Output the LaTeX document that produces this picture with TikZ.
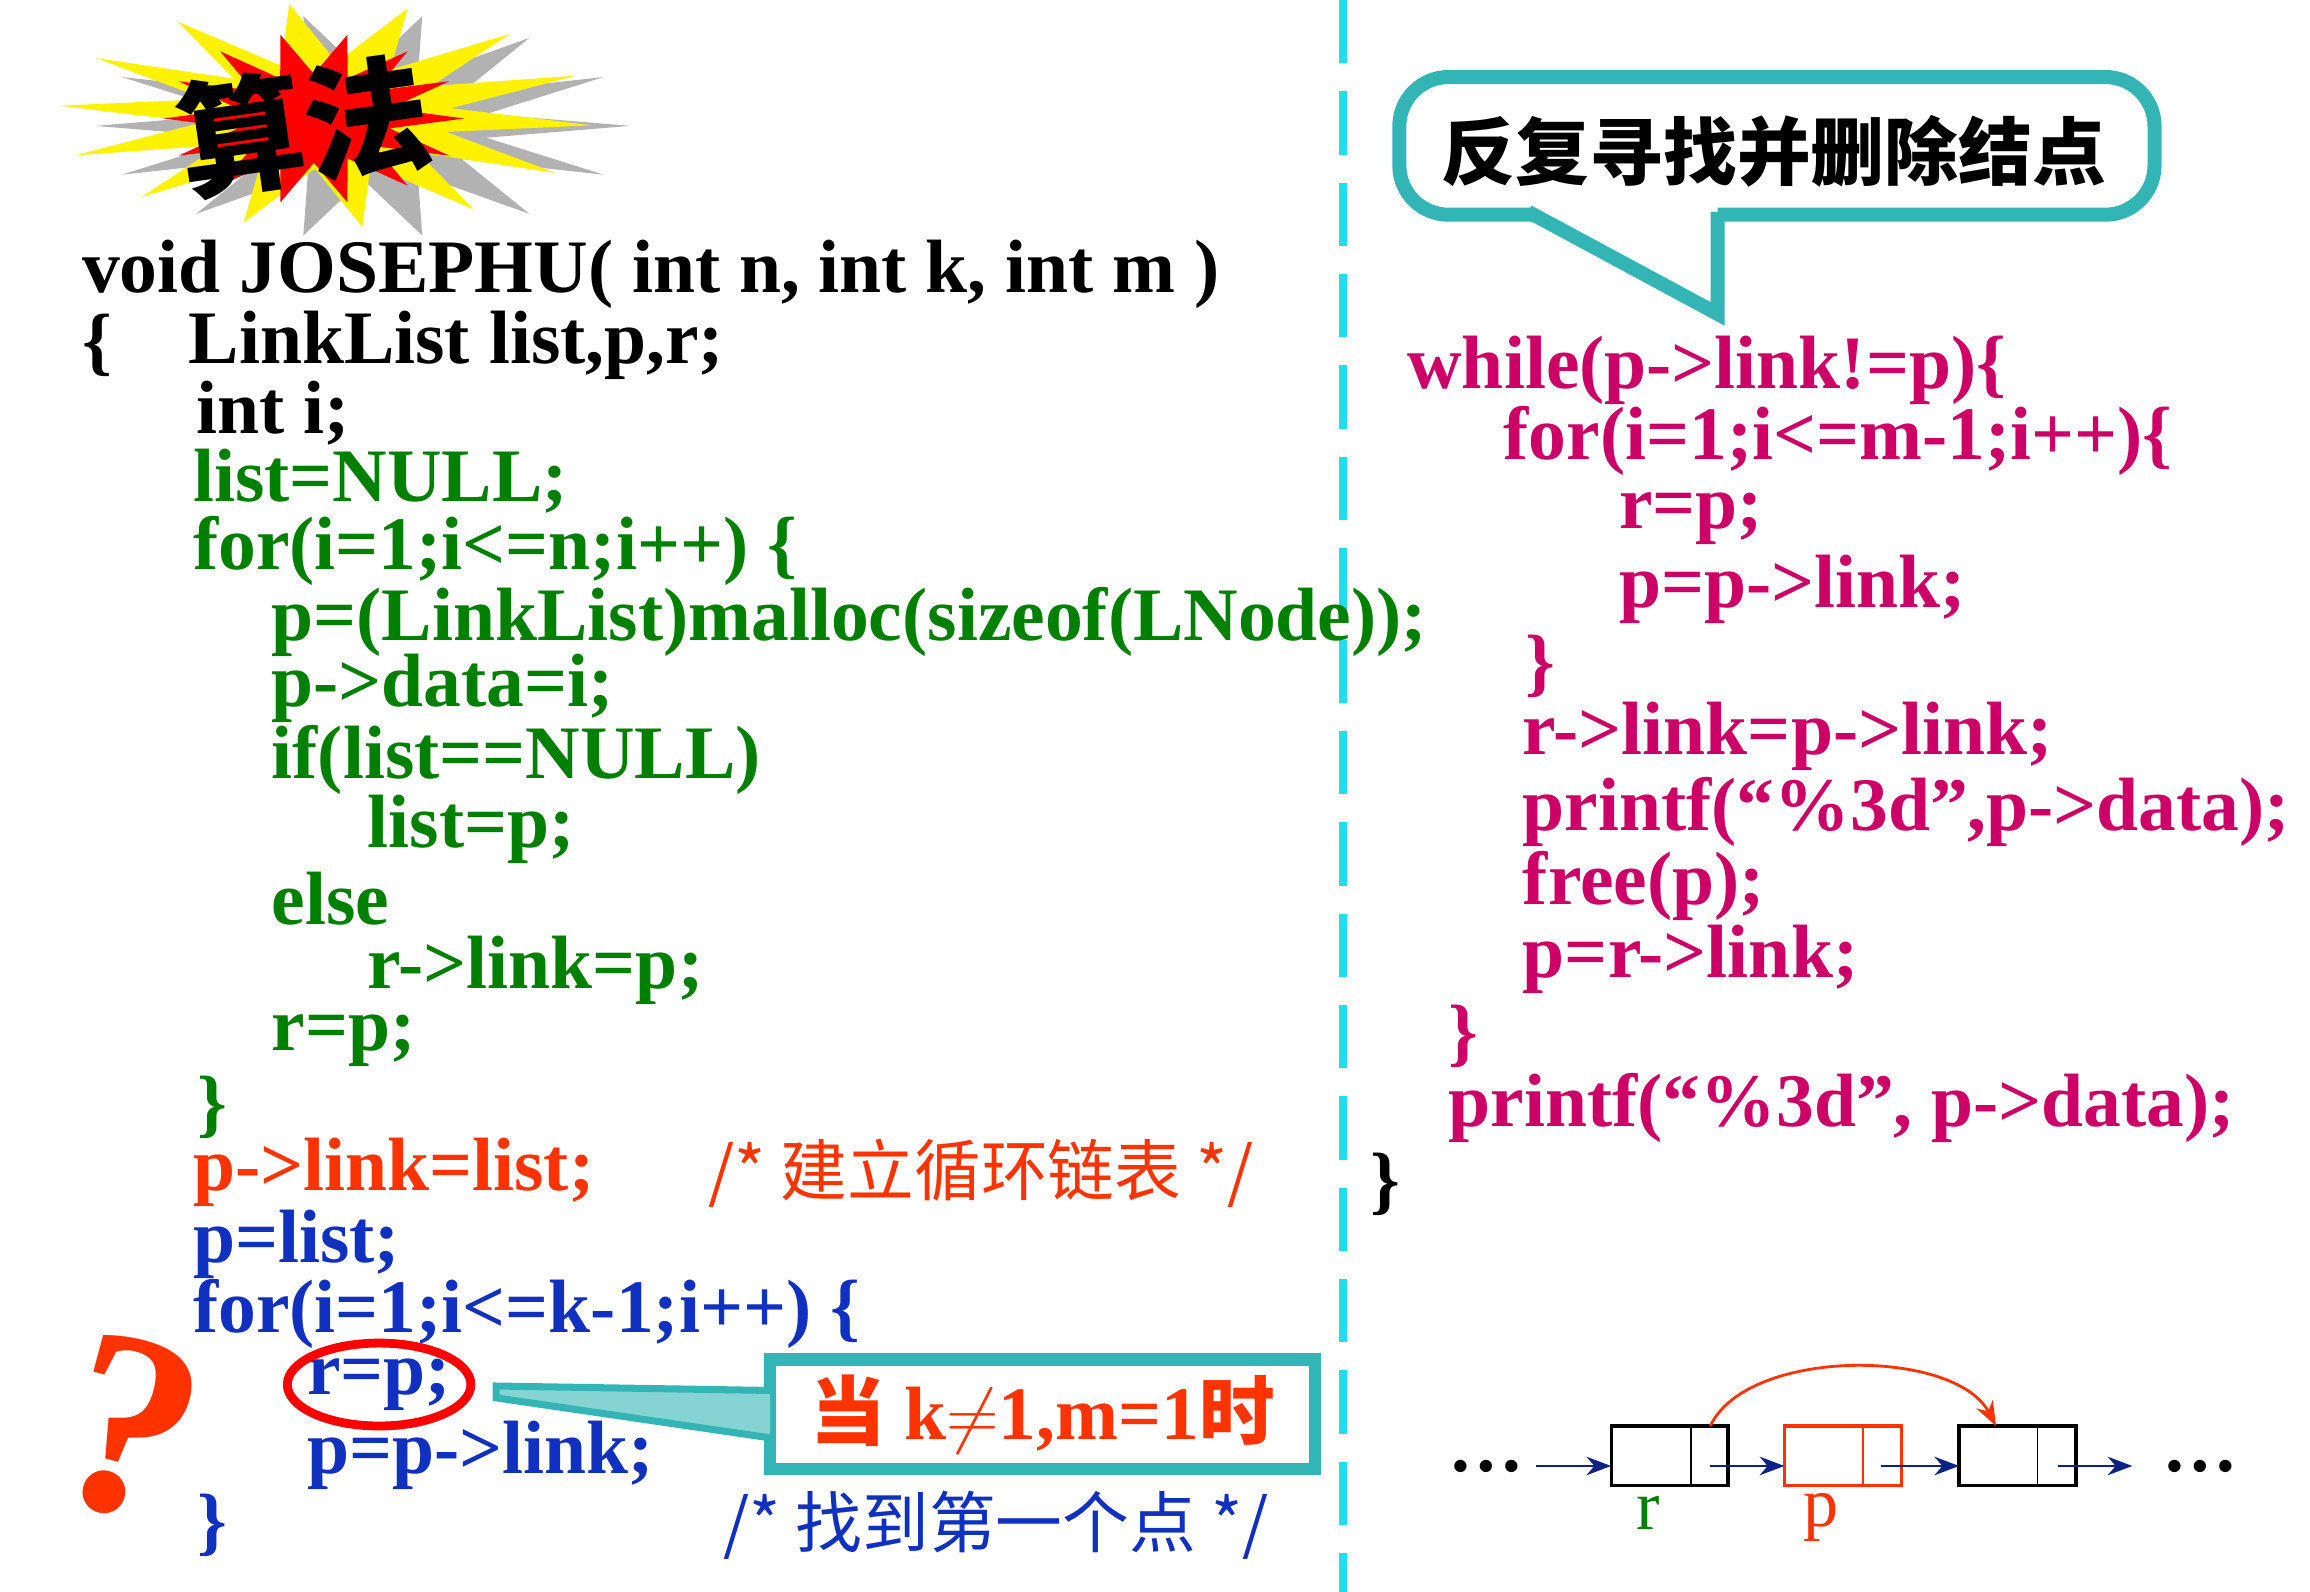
\documentclass[tikz,border=0pt]{standalone}
\usepackage{fontspec}
\setmainfont{Liberation Serif}
\newfontfamily\cjk{Noto Sans CJK SC}
\usetikzlibrary{arrows.meta,calc}
\definecolor{cgreen}{HTML}{008000}
\definecolor{cred}{HTML}{FF3300}
\definecolor{cblue}{HTML}{1030C0}
\definecolor{cmag}{HTML}{CC0066}
\definecolor{cteal}{HTML}{33B5B5}
\definecolor{ccyan}{HTML}{22DDEE}
\tikzset{
 code/.style={anchor=west,inner sep=0pt,font=\fontsize{21.5}{24}\selectfont\bfseries},
 cmt/.style={anchor=west,inner sep=0pt,font=\fontsize{19}{22}\selectfont\cjk},
 cell/.style={draw,line width=0.9pt},
 lnk/.style={-{Stealth[length=7pt]},draw=cblue!70!black,line width=0.8pt}
}
\begin{document}
\begin{tikzpicture}[x=0.1481mm,y=-0.1481mm]
\useasboundingbox (0,0) rectangle (1560,1075);
% starburst
\fill[gray!60] plot[samples=29,domain=0:360,variable=\t] ({245+0.95*(140+50*cos(14*\t))*cos(\t)},{85+0.4*(140+50*cos(14*\t))*sin(\t)}) -- cycle;
\fill[yellow] plot[samples=29,domain=0:360,variable=\t] ({220+0.95*(140+50*cos(14*\t))*cos(\t+5)},{78+0.4*(140+50*cos(14*\t))*sin(\t+5)}) -- cycle;
\fill[red] plot[samples=29,domain=0:360,variable=\t] ({212+0.7*(110+35*cos(14*\t))*cos(\t)},{80+0.4*(110+35*cos(14*\t))*sin(\t)}) -- cycle;
\node[inner sep=0pt,font=\fontsize{36}{40}\selectfont\cjk\bfseries,rotate=8] (algo) at (205,85) {算法};
% dashed separator
\draw[ccyan,line width=2.5pt,dash pattern=on 18pt off 8pt] (907,0) -- (907,1075);
% left code
\node[code] (l1) at (55,185) {void JOSEPHU( int n, int k, int m )};
\node[code] (l2) at (55,233) {\{};
\node[code] (l2b) at (127,233) {LinkList list,p,r;};
\node[code] (l3) at (132,279) {int i;};
\begin{scope}[every node/.style={code,text=cgreen}]
\node (g1) at (130,325) {list=NULL;};
\node (g2) at (130,372) {for(i=1;i<=n;i++) \{};
\node (g3) at (183,420) {p=(LinkList)malloc(sizeof(LNode));};
\node (g4) at (183,465) {p->data=i;};
\node (g5) at (183,513) {if(list==NULL)};
\node (g6) at (248,560) {list=p;};
\node (g7) at (183,607) {else};
\node (g8) at (248,655) {r->link=p;};
\node (g9) at (183,703) {r=p;};
\node (g10) at (133,748) {\}};
\end{scope}
\node[code,text=cred] (o1) at (130,792) {p->link=list;};
\node[cmt,text=cred] (oc) at (478,792) {/* 建立循环链表 */};
\begin{scope}[every node/.style={code,text=cblue}]
\node (b1) at (130,840) {p=list;};
\node (b2) at (130,887) {for(i=1;i<=k-1;i++) \{};
\node (b3) at (207,935) {r=p;};
\node (b4) at (207,983) {p=p->link;};
\node (b5) at (133,1030) {\}};
\end{scope}
\node[cmt,text=cblue] (bc) at (488,1030) {/* 找到第一个点 */};
\draw[red,line width=2.5pt] (b3.center) ellipse [x radius=62,y radius=28];
% question mark
\node[inner sep=0pt,font=\fontsize{75}{80}\selectfont\bfseries,text=cred,rotate=-15] (q) at (88,965) {?};
% callout box
\draw[cteal,line width=3.5pt] (520,918) rectangle (888,992);
\coordinate (bw) at (520,955);
\node[inner sep=0pt,font=\fontsize{21.5}{24}\selectfont\bfseries,text=cred] (box) at (704,955) {{\cjk 当} k$\neq$1,m=1{\cjk 时}};
\draw[cteal,line width=2pt,fill=cteal!60] ($(bw)+(0,-16)$) -- (335,936) -- (335,944) -- ($(bw)+(0,16)$);
% right callout
\draw[cteal,line width=4pt,rounded corners=14pt,fill=white] (945,52) rectangle (1455,145);
\fill[white] (1032,138) -- (1160,212) -- (1160,138) -- cycle;
\draw[cteal,line width=4pt] (1032,143) -- (1160,212) -- (1160,143);
\node[inner sep=0pt,font=\fontsize{21}{24}\selectfont\cjk\bfseries] (title) at (1198,102) {反复寻找并删除结点};
% right code
\begin{scope}[every node/.style={code,text=cmag}]
\node (m1) at (950,250) {while(p->link!=p)\{};
\node (m2) at (1015,298) {for(i=1;i<=m-1;i++)\{};
\node (m3) at (1093,350) {r=p;};
\node (m4) at (1093,398) {p=p->link;};
\node (m5) at (1030,450) {\}};
\node (m6) at (1028,497) {r->link=p->link;};
\node (m7) at (1028,548) {printf(“\%3d”,p->data);};
\node (m8) at (1028,598) {free(p);};
\node (m9) at (1028,648) {p=r->link;};
\node (m10) at (978,700) {\}};
\node (m11) at (978,748) {printf(“\%3d”, p->data);};
\end{scope}
\node[code] (end) at (925,800) {\}};
% linked list
\node[code] (d1) at (978,990) {…};
\node[code] (d2) at (1460,990) {…};
\draw[cell] (1088,963) rectangle (1167,1003); \draw (1142,963) -- (1142,1003);
\draw[cell,draw=cred] (1205,963) rectangle (1284,1003); \draw[cred] (1258,963) -- (1258,1003);
\draw[cell] (1323,963) rectangle (1402,1003); \draw (1376,963) -- (1376,1003);
\coordinate (a0) at (1037,990); \coordinate (a1) at (1088,990);
\coordinate (p1) at (1155,990); \coordinate (n2) at (1205,990);
\coordinate (p2) at (1270,990); \coordinate (n3) at (1323,990);
\coordinate (p3) at (1390,990); \coordinate (n4) at (1440,990);
\draw[lnk] (a0) -- (a1); \draw[lnk] (p1) -- (n2); \draw[lnk] (p2) -- (n3); \draw[lnk] (p3) -- (n4);
\coordinate (ctop) at (1155,963); \coordinate (ttop) at (1348,963);
\draw[cred,line width=0.8pt,-{Stealth[length=7pt]}] (ctop) .. controls (1180,910) and (1320,910) .. (ttop);
\node[inner sep=0pt,font=\fontsize{20}{24}\selectfont,text=cgreen] (rl) at (1113,1022) {r};
\node[inner sep=0pt,font=\fontsize{20}{24}\selectfont,text=cred] (pl) at (1230,1025) {p};
\end{tikzpicture}
\end{document}
